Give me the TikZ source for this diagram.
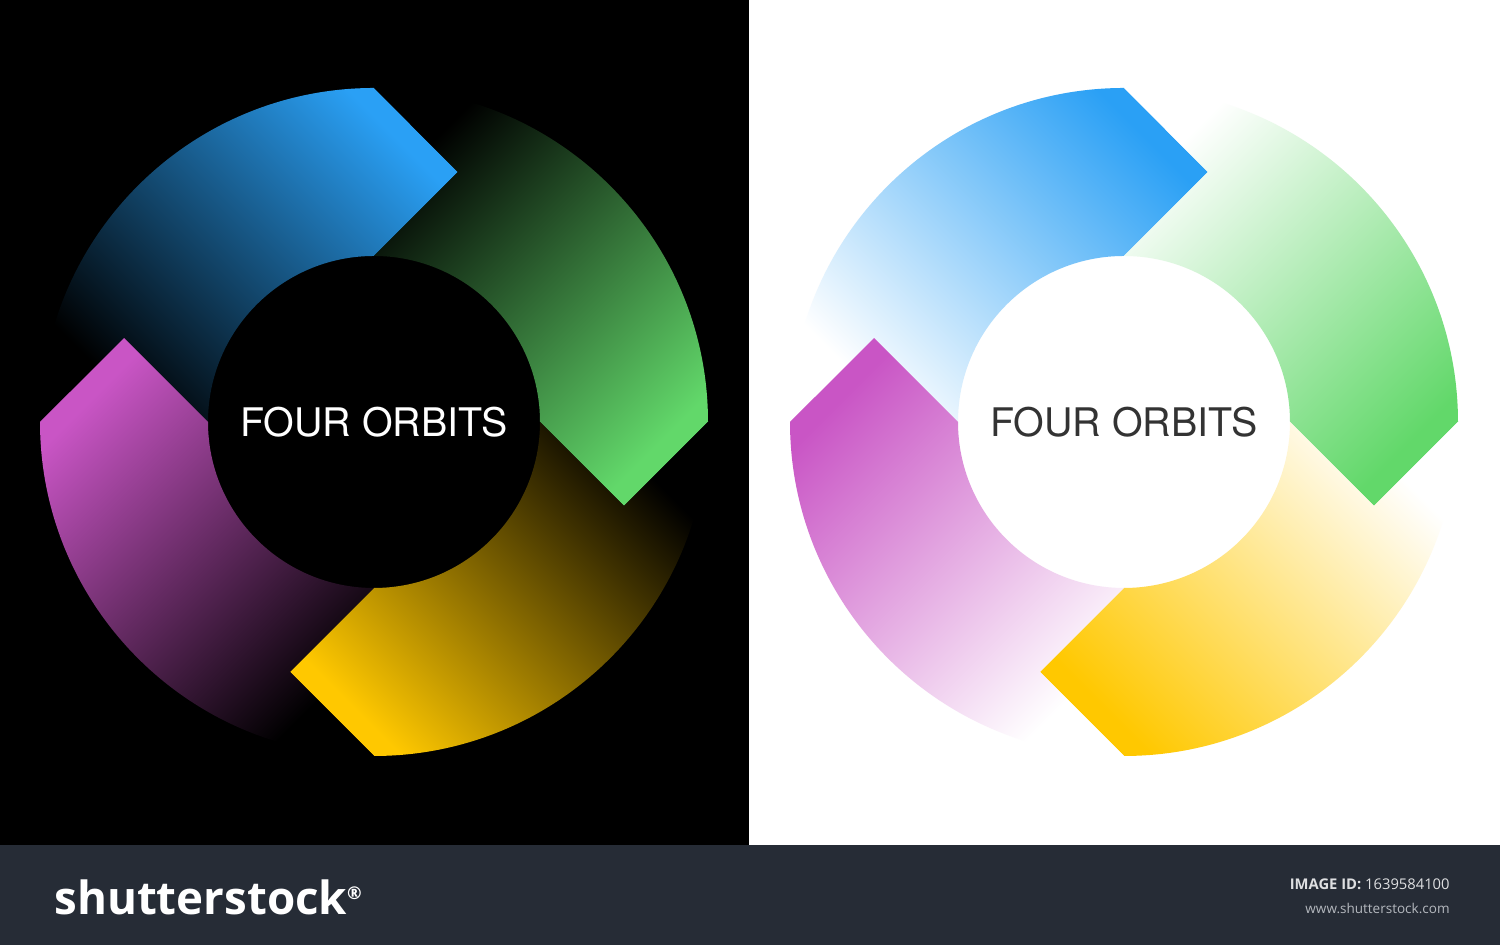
\documentclass[tikz,border=0pt]{standalone}
\usepackage{fontspec}
\setmainfont{TeX Gyre Heros}
\newfontfamily\barfont{Open Sans}

\definecolor{orbitblue}{HTML}{2AA0F5}
\definecolor{orbitgreen}{HTML}{62D86A}
\definecolor{orbityellow}{HTML}{FFC800}
\definecolor{orbitpink}{HTML}{C955C5}
\definecolor{barbg}{HTML}{262C36}
\definecolor{bargrey}{HTML}{B4B8BE}

% ring radii, arrow tip offset
\newcommand{\Ro}{3.34}
\newcommand{\Ri}{1.66}
\newcommand{\Rt}{2.637}
\newcommand{\At}{18.57}

% \Orbit[shading]{tail angle}{head angle}
\newcommand{\Orbit}[3][]{%
  \shade[#1] (#2:\Ro) arc[start angle=#2, end angle=#3, radius=\Ro]
    -- (#3-\At:\Rt) -- (#3:\Ri)
    arc[start angle=#3, end angle=#2, radius=\Ri]
    -- (#2-\At:\Rt) -- cycle;}

\tikzset{
  fade/.style n args={3}{top color=#1, bottom color=#2, shading angle=#3},
  title/.style={font=\fontsize{11.2}{13}\selectfont}
}

\begin{document}
\begin{tikzpicture}
\useasboundingbox (0,0) rectangle (15,9.45);
\fill[black] (0,1) rectangle (7.49,9.45);
\fill[white] (7.49,1) rectangle (15,9.45);
\fill[barbg] (0,0) rectangle (15,1);

\begin{scope}[shift={(3.74,5.23)}]
\Orbit[fade={orbitblue}{black}{-45}]{180}{90}
\Orbit[fade={orbitgreen}{black}{-135}]{90}{0}
\Orbit[fade={orbityellow}{black}{135}]{0}{-90}
\Orbit[fade={orbitpink}{black}{45}]{-90}{-180}
\node[title, text=white] (dark) at (0,0) {FOUR ORBITS};
\end{scope}

\begin{scope}[shift={(11.24,5.23)}]
\Orbit[fade={orbitblue}{white}{-45}]{180}{90}
\Orbit[fade={orbitgreen}{white}{-135}]{90}{0}
\Orbit[fade={orbityellow}{white}{135}]{0}{-90}
\Orbit[fade={orbitpink}{white}{45}]{-90}{-180}
\node[title, text=black!80] (light) at (0,0) {FOUR ORBITS};
\end{scope}

\node[anchor=base west, text=white, font=\barfont\bfseries\fontsize{13}{15}\selectfont]
  (logo) at (0.42,0.30) {shutterstock\textsuperscript{\tiny\textregistered}};
\node[anchor=base east, text=white!85!barbg, font=\barfont\fontsize{4.2}{6}\selectfont]
  (imageid) at (14.62,0.55) {\textbf{IMAGE ID:} 1639584100};
\node[anchor=base east, text=bargrey, font=\barfont\fontsize{3.85}{6}\selectfont]
  (site) at (14.62,0.31) {www.shutterstock.com};
\end{tikzpicture}
\end{document}
